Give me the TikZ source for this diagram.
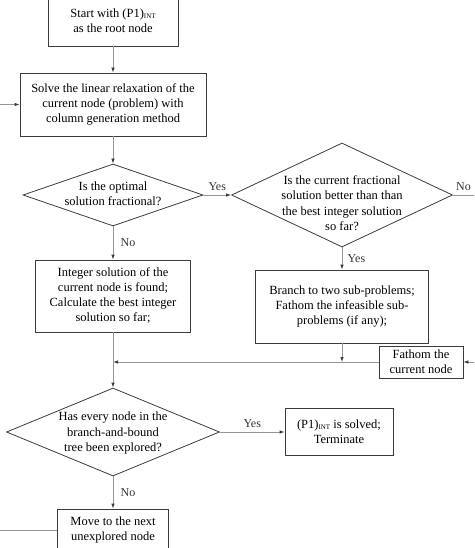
\documentclass[tikz,border=0pt]{standalone}
\usepackage{fontspec}
\setmainfont{Liberation Serif}
\usetikzlibrary{shapes.geometric, arrows.meta}
\tikzset{>=latex}
\definecolor{boxgray}{RGB}{60, 60, 60}
\definecolor{linegray}{RGB}{150, 150, 150}
\newcommand{\pint}{(P1)\raisebox{-0.15ex}{\fontsize{7}{7}\selectfont INT}}
\tikzset{
  procbox/.style = {draw = boxgray, line width = 0.8pt, rectangle, align = center, inner sep = 0pt, font = \fontsize{12.5}{15}\selectfont},
  decision/.style = {draw = boxgray, line width = 0.8pt, diamond, inner sep = 0pt},
  dectext/.style = {align = center, inner sep = 0pt, font = \fontsize{12.5}{15.5}\selectfont},
  flow/.style = {draw = linegray, line width = 0.8pt},
  flowarrow/.style = {flow, -{Latex[length = 5pt, width = 3.5pt, color = boxgray]}},
  tag/.style = {font = \fontsize{12}{14}\selectfont, text = black!80}
}

\begin{document}
\begin{tikzpicture}[x = 1pt, y = -1pt]
\useasboundingbox (0,0) rectangle (474,548);

% boxes
\node[procbox, minimum width = 130, minimum height = 50] (start) at (113,21) {Start with \pint\\ as the root node};
\node[procbox, minimum width = 186, minimum height = 63] (solve) at (113,104.5) {Solve the linear relaxation of the\\ current node (problem) with\\ column generation method};
\node[procbox, minimum width = 155, minimum height = 72] (intsol) at (113,296) {Integer solution of the\\ current node is found;\\ Calculate the best integer\\ solution so far;};
\node[procbox, minimum width = 173, minimum height = 73] (branch) at (342,306.5) {Branch to two sub-problems;\\ Fathom the infeasible sub-\\ problems (if any);};
\node[procbox, minimum width = 84, minimum height = 32] (fathom) at (421,362) {Fathom the\\ current node};
\node[procbox, minimum width = 108, minimum height = 47] (solved) at (339,432) {\pint\ is solved;\\ Terminate};
\node[procbox, minimum width = 111, minimum height = 42] (move) at (113,530) {Move to the next\\ unexplored node};

% decisions
\node[decision, minimum width = 180, minimum height = 62] (frac) at (113,195) {};
\node[dectext] (fractext) at (113,194) {Is the optimal\\ solution fractional?};
\node[decision, minimum width = 221, minimum height = 104] (better) at (342,195) {};
\node[dectext] (bettertext) at (342,203) {Is the current fractional\\ solution better than than\\ the best integer solution\\ so far?};
\node[decision, minimum width = 213, minimum height = 88] (explored) at (113,432) {};
\node[dectext] (exploredtext) at (113,433) {Has every node in the\\ branch-and-bound\\ tree been explored?};

% free ends
\coordinate (solvein) at (0,104.5);
\coordinate (noout) at (474,195);
\coordinate (merge) at (intsol.south |- fathom.west);
\coordinate (fathomin) at (474,362);
\coordinate (moveout) at (0,530);

% connectors
\draw[flowarrow] (start.south) -- (solve.north);
\draw[flowarrow] (solvein) -- (solve.west);
\draw[flowarrow] (solve.south) -- (frac.north);
\draw[flowarrow] (frac.east) -- node[tag, above, yshift = 1pt] {Yes} (better.west);
\draw[flow] (better.east) -- node[tag, above, yshift = 1pt] {No} (noout);
\draw[flowarrow] (frac.south) -- node[tag, right, xshift = 4pt] {No} (intsol.north);
\draw[flowarrow] (better.south) -- node[tag, right, xshift = 2pt] {Yes} (branch.north);
\draw[flowarrow] (branch.south) -- (branch.south |- merge);
\draw[flowarrow] (fathomin) -- (fathom.east);
\draw[flowarrow] (fathom.west) -- (merge);
\draw[flowarrow] (intsol.south) -- (explored.north);
\draw[flowarrow] (explored.east) -- node[tag, above, yshift = 1pt] {Yes} (solved.west);
\draw[flowarrow] (explored.south) -- node[tag, right, xshift = 4pt] {No} (move.north);
\draw[flow] (move.west) -- (moveout);

\end{tikzpicture}
\end{document}
